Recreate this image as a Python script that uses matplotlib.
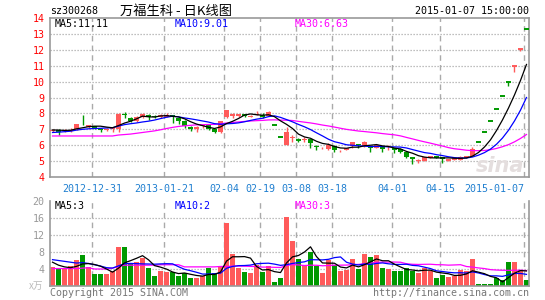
import matplotlib
matplotlib.use('Agg')
import matplotlib.pyplot as plt
import pandas as pd

# 日K线 data, one entry per trading day
opens = [6.92, 6.93, 6.88, 6.90, 7.00, 7.36, 7.15, 7.18, 7.05, 6.95,
         7.00, 7.05, 7.95, 7.70, 7.50, 7.75, 7.92, 7.85, 7.78, 7.80,
         7.90, 7.70, 7.52, 7.15, 7.02, 7.20, 7.25, 7.00, 6.80, 7.80,
         7.85, 7.85, 7.90, 7.80, 7.90, 7.90, 7.85, 7.27, 6.54, 6.02,
         6.46, 6.35, 6.35, 6.37, 5.98, 5.80, 5.77, 5.92, 5.63, 5.72,
         5.92, 6.07, 5.92, 5.92, 5.82, 5.92, 5.80, 5.80, 5.77, 5.60,
         5.20, 5.02, 5.03, 5.20, 5.33, 5.20, 5.06, 5.10, 5.10, 5.20,
         5.35, 6.23, 6.85, 7.52, 8.25, 9.10, 9.98, 10.95, 12.04, 13.30]
highs = [7.05, 7.05, 7.00, 7.08, 7.36, 7.90, 7.30, 7.22, 7.08, 7.10,
         7.12, 8.00, 8.10, 7.80, 7.85, 8.00, 7.95, 7.90, 7.95, 8.00,
         7.92, 7.75, 7.58, 7.20, 7.20, 7.30, 7.30, 7.05, 7.50, 8.20,
         8.00, 7.98, 7.92, 7.90, 8.15, 8.00, 8.12, 7.27, 6.54, 7.17,
         6.65, 6.48, 6.50, 6.40, 6.02, 5.90, 6.12, 6.00, 5.70, 5.85,
         6.23, 6.10, 6.25, 5.95, 6.05, 5.95, 6.02, 5.85, 5.80, 5.62,
         5.22, 5.12, 5.25, 5.35, 5.35, 5.22, 5.15, 5.18, 5.30, 5.35,
         5.90, 6.23, 6.85, 7.52, 8.25, 9.10, 9.98, 10.97, 12.06, 13.30]
lows = [6.85, 6.67, 6.83, 6.80, 6.98, 7.30, 7.08, 7.05, 6.80, 6.90,
        6.85, 6.85, 7.70, 7.45, 7.45, 7.70, 7.60, 7.70, 7.72, 7.75,
        7.40, 7.35, 7.10, 6.90, 6.85, 7.10, 6.95, 6.75, 6.75, 7.70,
        7.70, 7.80, 7.75, 7.75, 7.88, 7.70, 7.82, 7.27, 6.54, 6.00,
        6.23, 6.17, 6.23, 5.80, 5.70, 5.76, 5.67, 5.55, 5.58, 5.68,
        5.82, 5.85, 5.88, 5.60, 5.80, 5.60, 5.70, 5.50, 5.50, 5.20,
        4.83, 4.90, 5.00, 5.18, 5.18, 4.85, 5.00, 5.05, 5.08, 5.18,
        5.30, 6.23, 6.85, 7.52, 8.25, 9.10, 9.70, 10.63, 11.90, 13.30]
closes = [6.98, 6.90, 6.95, 6.98, 7.33, 7.32, 7.25, 7.10, 6.98, 7.05,
          7.10, 7.95, 7.88, 7.55, 7.80, 7.95, 7.75, 7.80, 7.90, 7.90,
          7.75, 7.55, 7.20, 7.00, 7.15, 7.25, 7.05, 6.80, 7.50, 8.20,
          7.95, 7.95, 7.88, 7.85, 7.95, 7.80, 8.10, 7.27, 6.54, 6.85,
          6.50, 6.32, 6.39, 6.12, 5.90, 5.83, 6.02, 5.72, 5.66, 5.81,
          6.17, 6.02, 6.17, 5.82, 6.02, 5.75, 5.83, 5.67, 5.55, 5.25,
          5.18, 5.05, 5.23, 5.33, 5.20, 5.18, 5.08, 5.12, 5.28, 5.33,
          5.75, 6.23, 6.85, 7.52, 8.25, 9.10, 9.96, 10.97, 12.06, 13.30]
# 成交量 (x万)
volumes = [4.4, 3.9, 3.9, 4.8, 6.1, 7.2, 4.4, 2.8, 2.8, 2.8,
           3.5, 9.1, 9.1, 5.3, 5.6, 6.6, 4.2, 2.3, 3.5, 3.3,
           3.2, 2.3, 3.0, 2.0, 1.9, 2.4, 4.2, 3.1, 4.8, 14.8,
           7.5, 4.2, 3.3, 3.0, 5.0, 3.3, 4.7, 0.9, 1.9, 16.3,
           10.5, 6.3, 5.0, 8.0, 4.8, 3.0, 6.1, 4.9, 3.5, 3.8,
           6.3, 4.0, 7.5, 6.8, 7.2, 4.2, 4.0, 3.5, 3.5, 4.2,
           3.6, 3.0, 4.3, 3.5, 1.9, 2.6, 2.1, 2.3, 3.7, 3.5,
           6.3, 0.5, 0.5, 0.5, 1.9, 1.4, 5.6, 5.6, 3.7, 1.4]

# MA values at the left edge (history before the window is not shown)
ma5_head = [6.96, 6.95, 6.93, 6.94]
ma10_head = [6.80, 6.82, 6.85, 6.88, 6.95, 7.00, 7.03, 7.05, 7.06]
ma30_head = [6.58] * 11 + [6.64, 6.67, 6.70, 6.75, 6.80, 6.85, 6.90, 6.97, 7.05,
                           7.12, 7.18, 7.22, 7.25, 7.28, 7.29, 7.30, 7.31, 7.35]
vma5_head = [5.6, 4.9, 4.5, 4.3]
vma10_head = [6.2, 6.0, 5.8, 5.6, 5.4, 5.5, 5.3, 5.0, 4.7]
vma30_head = [4.1, 4.1, 4.1, 4.1, 4.1, 4.2, 4.3, 4.0, 4.0, 4.0,
              4.2, 4.6, 4.9, 4.9, 4.9, 4.9, 4.9, 4.9, 5.0, 5.0,
              5.0, 5.0, 4.5, 4.5, 4.5, 4.5, 4.5, 4.5, 4.6]

date_idx = [7, 19, 29, 35, 41, 47, 57, 65, 79]
date_labels = ['2012-12-31', '2013-01-21', '02-04', '02-19', '03-08',
               '03-18', '04-01', '04-15', '2015-01-07']


def moving_avg(values, n, head):
    ma = pd.Series(values).rolling(n).mean()
    ma.iloc[:n - 1] = head
    return ma.values


RED = '#ff5a5a'
GREEN = '#009900'
GRID = '#aaaaaa'
FRAME = '#999999'
MONO = 'DejaVu Sans Mono'
CJK = ['Noto Sans CJK SC', 'DejaVu Sans']
FS = 7.2

W, H = 545, 300


def box(l, t, r, b):
    return [l / W, 1 - b / H, (r - l) / W, (b - t) / H]


fig = plt.figure(figsize=(W / 100, H / 100), dpi=100)
ax = fig.add_axes(box(50, 18, 529, 177))
axv = fig.add_axes(box(50, 201, 529, 286))

xs = list(range(len(closes)))
colors = [RED if c > o else GREEN for o, c in zip(opens, closes)]

for a in (ax, axv):
    a.set_xlim(-0.42, 79.42)
    for d in date_idx:
        a.axvline(d - 0.42, color=GRID, lw=1, dashes=(4, 3), zorder=0)
    for s in a.spines.values():
        s.set_color(FRAME)
        s.set_linewidth(1.2)
    a.tick_params(length=0)

# price panel
ax.set_ylim(4, 14)
for y in range(5, 14):
    ax.axhline(y, color=GRID, lw=0.9, dashes=(1, 1.4), zorder=0)
for i in xs:
    o, h, l, c = opens[i], highs[i], lows[i], closes[i]
    col = colors[i]
    if h > l:
        ax.vlines(i, l, h, color=col, lw=1, zorder=2)
    if abs(c - o) < 0.03:
        ax.hlines(c, i - 0.4, i + 0.4, color=col, lw=1.4, zorder=3)
    else:
        ax.bar(i, abs(c - o), bottom=min(o, c), width=0.8, color=col, zorder=3)

ax.plot(xs, moving_avg(closes, 30, ma30_head), color='#ff00ff', lw=0.9, zorder=4)
ax.plot(xs, moving_avg(closes, 10, ma10_head), color='#0000ff', lw=0.9, zorder=4)
ax.plot(xs, moving_avg(closes, 5, ma5_head), color='black', lw=0.9, zorder=5)

ax.set_yticks(range(4, 15))
ax.set_yticklabels([str(v) for v in range(4, 15)], color='red', fontsize=FS, family=MONO)
ax.tick_params(axis='y', pad=4)
ax.set_xticks([d - 0.42 for d in date_idx])
ax.set_xticklabels(date_labels, color='#1f7fd0', fontsize=FS, family=MONO)
ax.tick_params(axis='x', pad=5)
ax.get_xticklabels()[-1].set_ha('right')
ax.text(0.94, 0.07, 'sina', transform=ax.transAxes, ha='center', va='center',
        fontsize=15, fontweight='bold', style='italic', color='#e4dede', zorder=1)

# volume panel
axv.set_ylim(0, 20)
axv.spines['top'].set_visible(False)
for y in (4, 8, 12, 16):
    axv.axhline(y, color=GRID, lw=0.9, dashes=(1, 1.4), zorder=0)
axv.bar(xs, volumes, width=0.8, color=colors, zorder=2)
axv.plot(xs, moving_avg(volumes, 30, vma30_head), color='#ff00ff', lw=0.9, zorder=4)
axv.plot(xs, moving_avg(volumes, 10, vma10_head), color='#0000ff', lw=0.9, zorder=4)
axv.plot(xs, moving_avg(volumes, 5, vma5_head), color='black', lw=0.9, zorder=5)
axv.set_xticks([])
axv.set_yticks([4, 8, 12, 16, 20])
axv.set_yticklabels(['4', '8', '12', '16', '20'], color='#999999', fontsize=FS, family=MONO)
axv.tick_params(axis='y', pad=4)

# texts
def ftext(x, y, s, **kw):
    kw.setdefault('family', MONO)
    kw.setdefault('fontsize', FS)
    fig.text(x / W, 1 - y / H, s, va='center', **kw)


ftext(50, 11, 'sz300268')
ftext(120, 11, '万福生科 - 日K线图', family=CJK, fontsize=9.5)
ftext(529, 11, '2015-01-07 15:00:00', ha='right')
ftext(55, 24, 'MA5:11.11', color='black')
ftext(175, 24, 'MA10:9.01', color='#0000ff')
ftext(295, 24, 'MA30:6.63', color='#ff00ff')
ftext(55, 206, 'MA5:3', color='black')
ftext(175, 206, 'MA10:2', color='#0000ff')
ftext(295, 206, 'MA30:3', color='#ff00ff')
ftext(29, 286, 'x万', family=CJK, fontsize=7, color='#bbbbbb')
ftext(50, 293, 'Copyright 2015 SINA.COM', color='#777777')
ftext(529, 293, 'http://finance.sina.com.cn', color='#777777', ha='right')

fig.savefig('out.png', dpi=100, facecolor='white')
